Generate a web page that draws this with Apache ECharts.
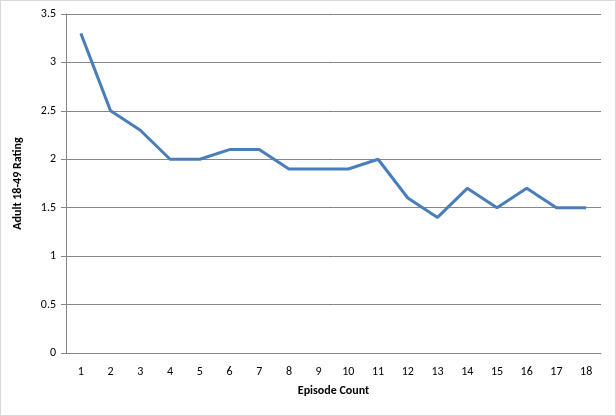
<!DOCTYPE html>
<html>
<head>
<meta charset="utf-8">
<script src="https://cdn.jsdelivr.net/npm/echarts@6/dist/echarts.min.js"></script>
<style>
html, body { margin: 0; padding: 0; background: #fff; }
#chart { width: 614px; height: 414px; border: 1px solid #d9d9d9; }
</style>
</head>
<body>
<div id="chart"></div>
<script>
const episodes = ['1','2','3','4','5','6','7','8','9','10','11','12','13','14','15','16','17','18'];
const ratings = [3.3, 2.5, 2.3, 2.0, 2.0, 2.1, 2.1, 1.9, 1.9, 1.9, 2.0, 1.6, 1.4, 1.7, 1.5, 1.7, 1.5, 1.5];

const chart = echarts.init(document.getElementById('chart'));
const font = 'Carlito, "Liberation Sans", Arial, sans-serif';
chart.setOption({
    animation: false,
    grid: { left: 65, right: 14, top: 13, bottom: 62 },
    xAxis: {
        type: 'category',
        data: episodes,
        name: 'Episode Count',
        nameLocation: 'middle',
        nameGap: 32,
        nameTextStyle: { fontFamily: font, fontSize: 12, fontWeight: 'bold', color: '#000' },
        axisLine: { lineStyle: { color: '#868686' } },
        axisTick: { length: 5, lineStyle: { color: '#868686' } },
        axisLabel: { fontFamily: font, fontSize: 12, color: '#000', margin: 13 }
    },
    yAxis: {
        type: 'value',
        min: 0,
        max: 3.5,
        interval: 0.5,
        name: 'Adult 18-49 Rating',
        nameLocation: 'middle',
        nameGap: 42,
        nameTextStyle: { fontFamily: font, fontSize: 12, fontWeight: 'bold', color: '#000' },
        axisLine: { show: true, lineStyle: { color: '#868686' } },
        axisTick: { show: true, length: 5, lineStyle: { color: '#868686' } },
        axisLabel: { fontFamily: font, fontSize: 12, color: '#000', margin: 10 },
        splitLine: { lineStyle: { color: '#868686' } }
    },
    series: [{
        type: 'line',
        data: ratings,
        symbol: 'none',
        lineStyle: { color: '#4a7ebb', width: 3 }
    }]
});
</script>
</body>
</html>
